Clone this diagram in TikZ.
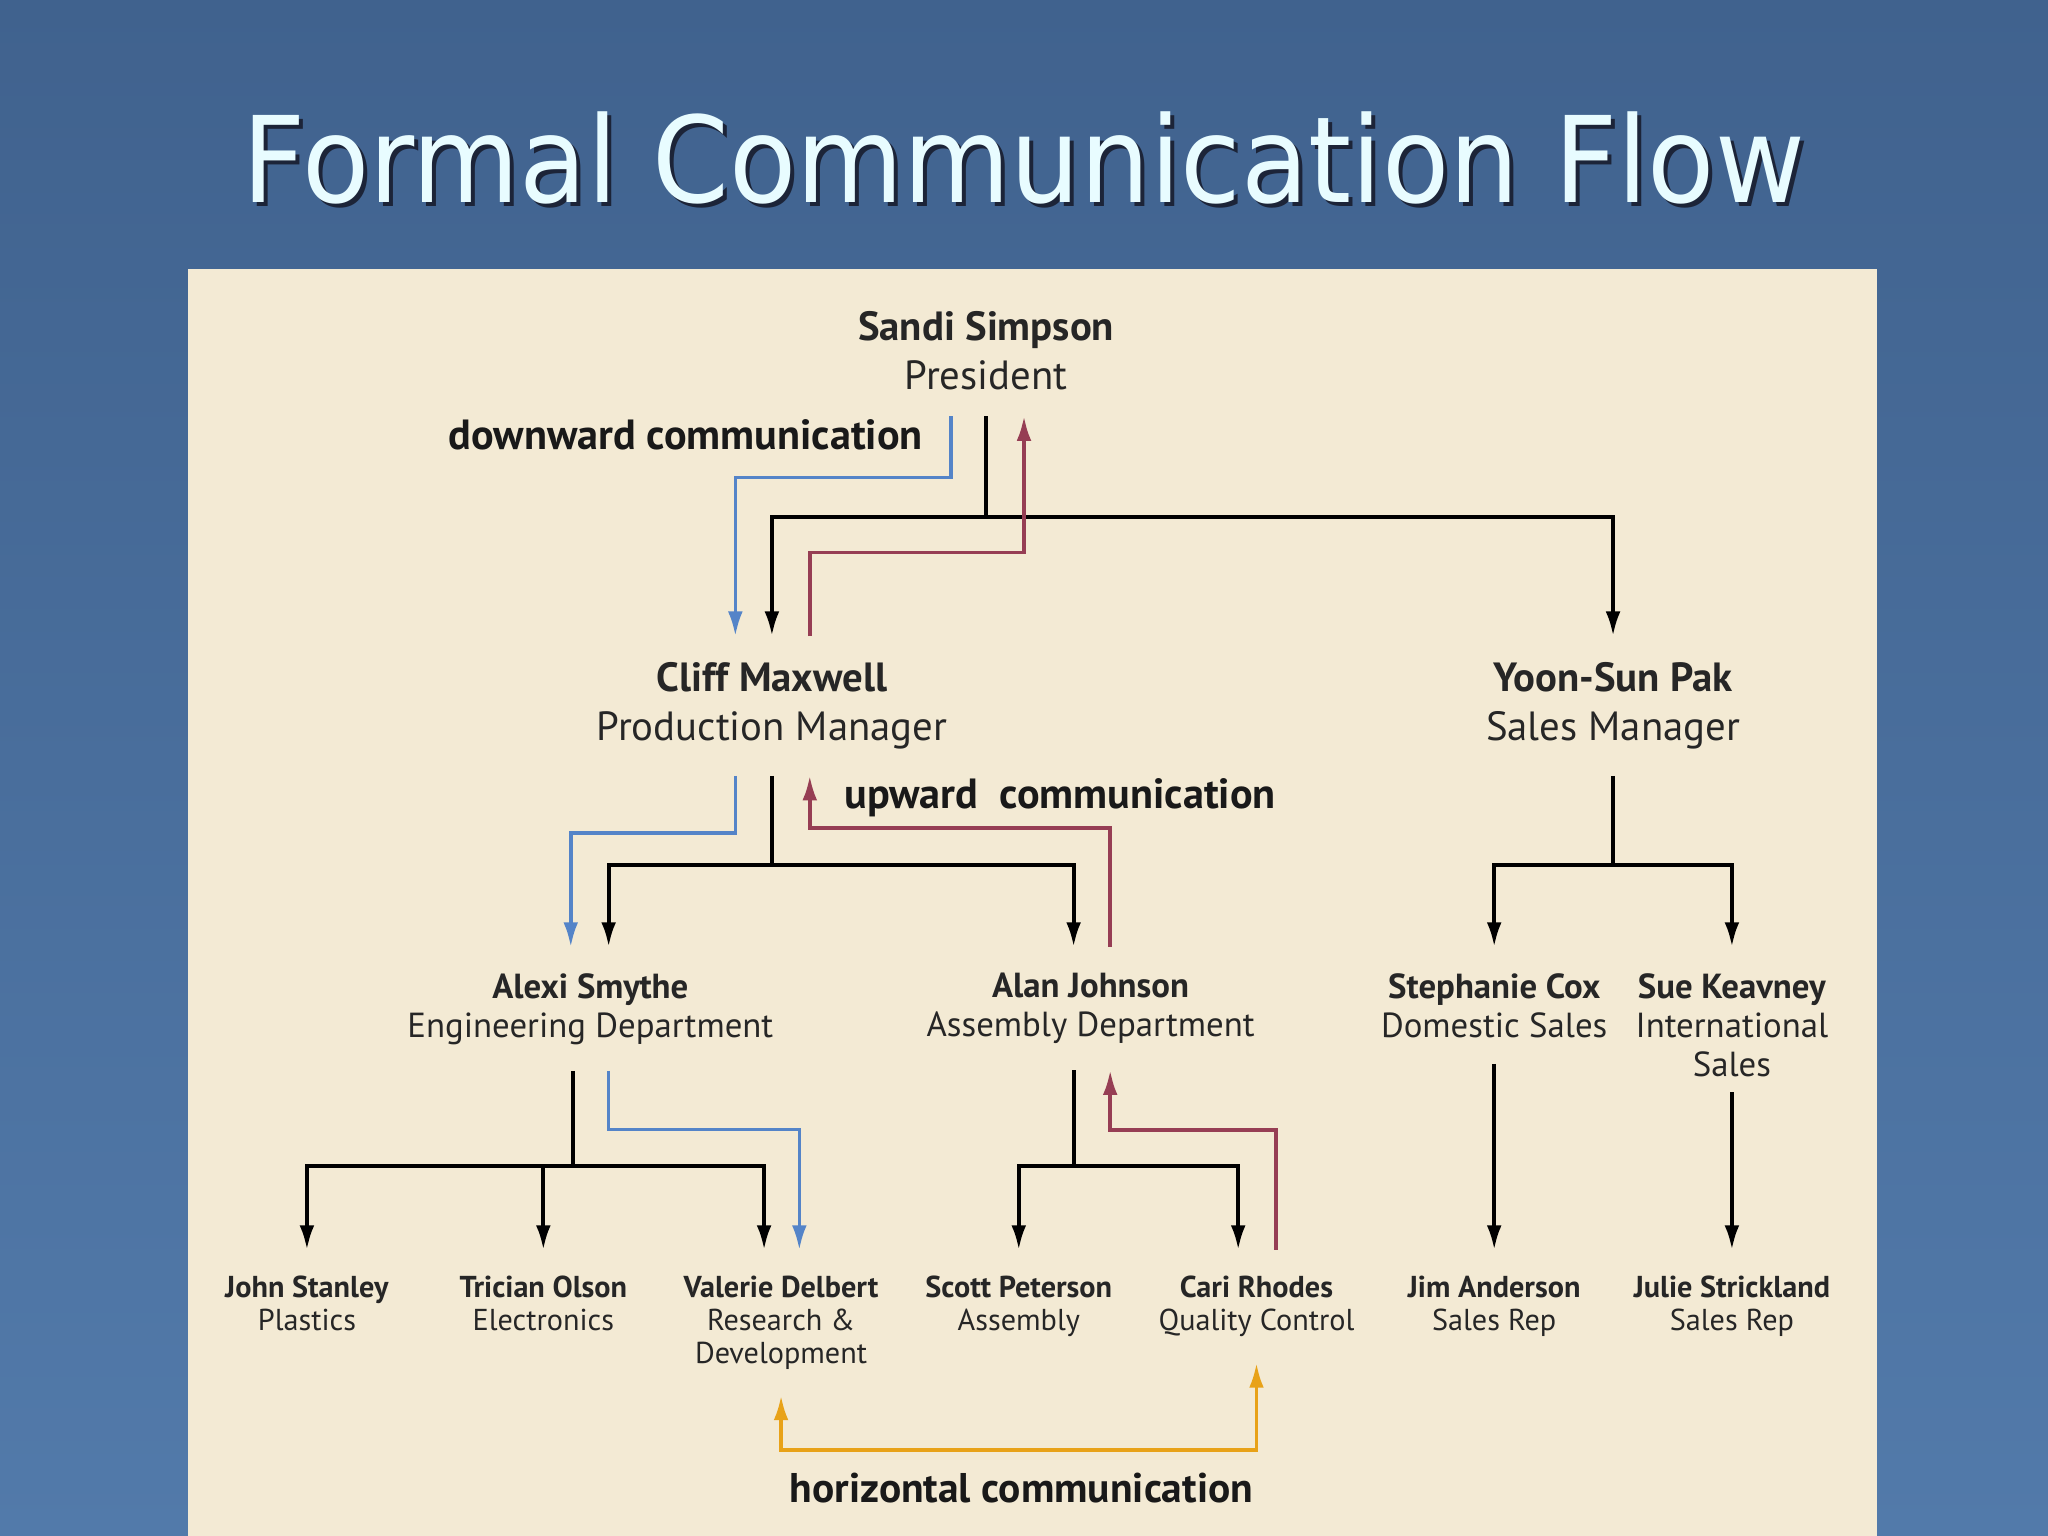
\documentclass[tikz,border=0pt]{standalone}
\usepackage{fontspec}
\usepackage{graphicx}
\setmainfont{PT Sans}
\newfontfamily\titlefont{DejaVu Sans}
\usetikzlibrary{arrows.meta,calc,positioning}
\definecolor{slideTop}{RGB}{64,98,142}
\definecolor{slideBottom}{RGB}{82,122,170}
\definecolor{panelCream}{RGB}{243,234,212}
\definecolor{downBlue}{RGB}{84,132,200}
\definecolor{upRed}{RGB}{150,62,84}
\definecolor{sideAmber}{RGB}{232,162,24}
\definecolor{titleCyan}{RGB}{232,252,255}
\definecolor{titleShade}{RGB}{28,36,56}

\begin{document}
\begin{tikzpicture}[x=0.01306cm,y=-0.01306cm,
  person/.style={align=center,inner sep=0pt,outer sep=7.5pt,anchor=north,text=black!85},
  topp/.style={person,font=\fontsize{11.6}{14}\selectfont},
  midp/.style={person,font=\fontsize{9.9}{11.1}\selectfont},
  lowp/.style={person,font=\fontsize{8.6}{9.3}\selectfont},
  lbl/.style={font=\bfseries\fontsize{12}{14}\selectfont,text=black!90},
  tree/.style={line width=1.1pt,black},
  arr/.style={tree,-{Latex[length=7pt,width=4.2pt]}},
  downc/.style={line width=1pt,downBlue,-{Latex[length=7pt,width=4.2pt]}},
  upc/.style={line width=1pt,upRed,-{Latex[length=7pt,width=4.2pt]}},
  sidec/.style={line width=1pt,sideAmber,{Latex[length=7pt,width=4.2pt]}-{Latex[length=7pt,width=4.2pt]}}
]
  % slide and panel
  \shade[top color=slideTop,bottom color=slideBottom] (0,0) rectangle (1568,1176);
  \fill[panelCream] (144,206) rectangle (1437,1176);
  \node[anchor=base,text=titleShade,font=\titlefont\fontsize{34}{40}\selectfont] (titleshadow) at (787,158) {\scalebox{0.92}[1]{Formal Communication Flow}};
  \node[anchor=base,text=titleCyan,font=\titlefont\fontsize{34}{40}\selectfont] (title) at (784,155) {\scalebox{0.92}[1]{Formal Communication Flow}};

  % bar levels
  \coordinate (lvlA) at (0,396);
  \coordinate (lvlB) at (0,662);
  \coordinate (lvlC) at (0,893);
  \coordinate (lvlD) at (0,1110);

  \node[topp](sandi)  at (755,218)  {\textbf{Sandi Simpson}\\President};
  \node[topp](cliff)  at (591,487)  {\textbf{Cliff Maxwell}\\Production Manager};
  \node[topp](yoon)   at (1235,487) {\textbf{Yoon-Sun Pak}\\Sales Manager};
  \node[midp](alexi)  at (452,725)  {\textbf{Alexi Smythe}\\Engineering Department};
  \node[midp](alan)   at (835,725)  {\textbf{Alan Johnson}\\Assembly Department};
  \node[midp](steph)  at (1144,725) {\textbf{Stephanie Cox}\\Domestic Sales};
  \node[midp](sue)    at (1326,725) {\textbf{Sue Keavney}\\International\\Sales};
  \node[lowp](john)   at (235,957)  {\textbf{John Stanley}\\Plastics};
  \node[lowp](trician)at (416,957)  {\textbf{Trician Olson}\\Electronics};
  \node[lowp](valerie)at (598,957)  {\textbf{Valerie Delbert}\\Research \&\\Development};
  \node[lowp](scott)  at (780,957)  {\textbf{Scott Peterson}\\Assembly};
  \node[lowp](cari)   at (962,957)  {\textbf{Cari Rhodes}\\Quality Control};
  \node[lowp](jim)    at (1144,957) {\textbf{Jim Anderson}\\Sales Rep};
  \node[lowp](julie)  at (1326,957) {\textbf{Julie Strickland}\\Sales Rep};

  \node[lbl](downlbl) at (525,333) {downward communication};
  \node[lbl,anchor=west](uplbl) at (637,611) {upward\ \ communication};
  \node[lbl,font=\bfseries\fontsize{11.8}{13}\selectfont](sidelbl) at (782,1139) {horizontal communication};

  % off-centre ends of the department stems
  \coordinate (alexiout) at ($(alexi.south)+(-13,0)$);
  \coordinate (alanout)  at ($(alan.south)+(-13,0)$);

  % formal chain
  \draw[arr](sandi.south)--(sandi.south |- lvlA)-|(cliff.north);
  \draw[arr](sandi.south |- lvlA)-|(yoon.north);
  \draw[arr](cliff.south)--(cliff.south |- lvlB)-|($(alexi.north)+(14,0)$);
  \draw[arr](cliff.south |- lvlB)-|($(alan.north)+(-13,0)$);
  \draw[arr](yoon.south)--(yoon.south |- lvlB)-|(steph.north);
  \draw[arr](yoon.south |- lvlB)-|(sue.north);
  \draw[arr](alexiout)--(alexiout |- lvlC)-|(john.north);
  \draw[arr](alexiout |- lvlC)-|(trician.north);
  \draw[arr](alexiout |- lvlC)-|($(valerie.north)+(-13,0)$);
  \draw[arr](alanout)--(alanout |- lvlC)-|(scott.north);
  \draw[arr](alanout |- lvlC)-|($(cari.north)+(-14,0)$);
  \draw[arr](steph.south)--(jim.north);
  \draw[arr]($(sue.south)+(0,-8)$)--(julie.north);

  % downward
  \draw[downc]($(sandi.south)+(-27,0)$)--++(0,47)-|($(cliff.north)+(-28,0)$);
  \draw[downc]($(cliff.south)+(-28,0)$)--++(0,44)-|($(alexi.north)+(-15,0)$);
  \draw[downc]($(alexi.south)+(14,0)$)--++(0,45)-|($(valerie.north)+(14,0)$);
  % upward
  \draw[upc]($(cliff.north)+(29,0)$)--++(0,-64)-|($(sandi.south)+(29,0)$);
  \draw[upc]($(alan.north)+(15,0)$)--++(0,-91)-|($(cliff.south)+(29,0)$);
  \draw[upc]($(cari.north)+(15,0)$)--++(0,-92)-|($(alan.south)+(15,0)$);
  % horizontal
  \draw[sidec](valerie.south)|-(cari.south |- lvlD)--(cari.south);
\end{tikzpicture}
\end{document}
